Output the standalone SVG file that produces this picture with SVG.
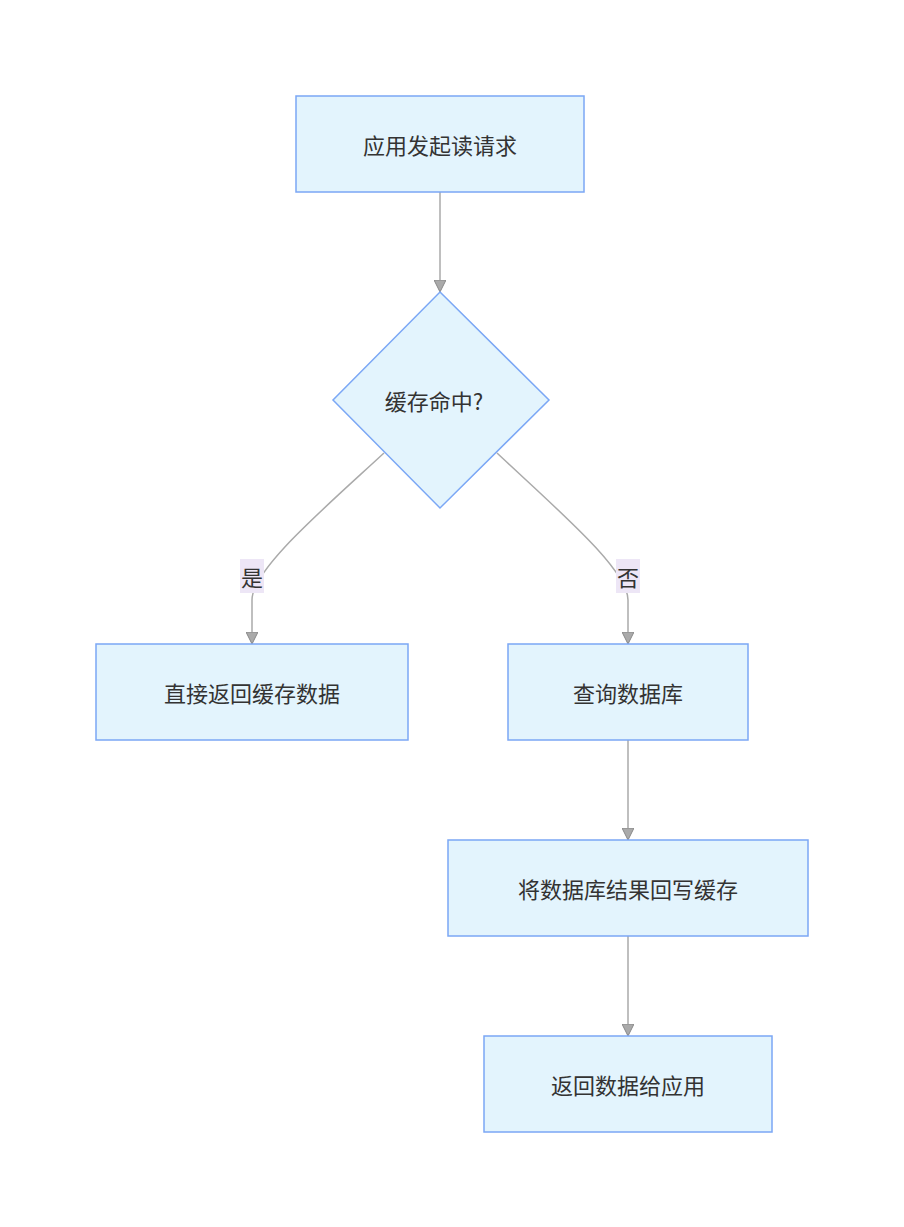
<svg xmlns="http://www.w3.org/2000/svg" width="904" height="1227" viewBox="0 0 904 1227">
<style>
.n{fill:#e3f4fd;stroke:#7ba7f5;stroke-width:1.5}
.t{font-family:"Noto Sans CJK SC","Liberation Sans",sans-serif;font-size:22px;fill:#333;text-anchor:middle;dominant-baseline:central}
.e{fill:none;stroke:#aaa;stroke-width:1.5}
.lb{fill:#ede6f6}
</style>
<defs>
<marker id="a" viewBox="0 0 12 12" refX="11" refY="6" markerWidth="12" markerHeight="12" markerUnits="userSpaceOnUse" orient="auto">
<path d="M0,0 L12,6 L0,12 Z" fill="#aaa" stroke="#888" stroke-width="1"/>
</marker>
</defs>
<rect width="904" height="1227" fill="#fff"/>
<g id="edges">
<path class="e" d="M440,192 L440,291" marker-end="url(#a)"/>
<path class="e" d="M384,453 C320,512 252,570 252,600 L252,643" marker-end="url(#a)"/>
<path class="e" d="M497,453 C560,512 628,570 628,600 L628,643" marker-end="url(#a)"/>
<path class="e" d="M628,740 L628,839" marker-end="url(#a)"/>
<path class="e" d="M628,936 L628,1035" marker-end="url(#a)"/>
<rect class="lb" x="240" y="559" width="24" height="34"/>
<text class="t" x="252" y="576">是</text>
<rect class="lb" x="616" y="559" width="24" height="34"/>
<text class="t" x="628" y="576">否</text>
</g>
<g id="A"><rect class="n" x="296" y="96" width="288" height="96"/><text class="t" x="440" y="144">应用发起读请求</text></g>
<g id="B"><path class="n" d="M440,292 L549,400 L440,508 L333,400 Z"/><text class="t" x="434" y="400">缓存命中?</text></g>
<g id="C"><rect class="n" x="96" y="644" width="312" height="96"/><text class="t" x="252" y="692">直接返回缓存数据</text></g>
<g id="D"><rect class="n" x="508" y="644" width="240" height="96"/><text class="t" x="628" y="692">查询数据库</text></g>
<g id="E"><rect class="n" x="448" y="840" width="360" height="96"/><text class="t" x="628" y="888">将数据库结果回写缓存</text></g>
<g id="F"><rect class="n" x="484" y="1036" width="288" height="96"/><text class="t" x="628" y="1084">返回数据给应用</text></g>
</svg>
